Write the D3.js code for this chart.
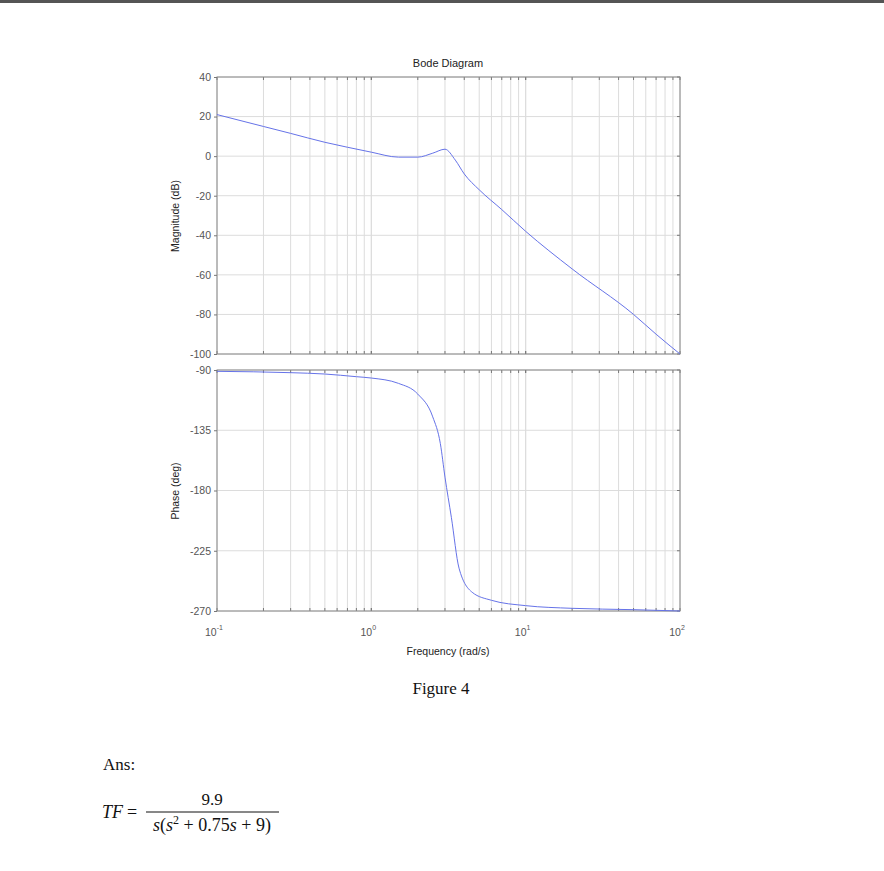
<!DOCTYPE html>
<html><head><meta charset="utf-8">
<script src="https://cdn.jsdelivr.net/npm/d3@7"></script>
<style>
body{margin:0;background:#fff;width:884px;height:871px;overflow:hidden}
svg{position:absolute;left:0;top:0}
</style></head>
<body>
<svg id="c" width="884" height="871"></svg>
<script>
// magnitude (dB)
const magFreq = [0.1,0.2,0.3,0.5,0.7,1,1.5,2,2.5,3,3.5,4,5,7,10,20,50,70,100];
const magDb   = [21,15,11.5,7,4.5,2,-0.5,-0.5,1.5,3.5,-2,-9,-17,-27,-38,-57,-80,-90,-100];
// phase (deg)
const phFreq = [0.1,0.3,0.5,0.8,1,1.5,2,2.5,2.8,3,3.3,3.7,4.5,6,10,20,50,100];
const phDeg  = [-91,-92,-93,-95,-96,-100,-108,-125,-145,-170,-200,-238,-256,-262,-266,-268,-269,-270];
const magTicks = [40,20,0,-20,-40,-60,-80,-100];
const phTicks = [-90,-135,-180,-225,-270];
const decades = [0.1,1,10,100];

const svg = d3.select('#c');
svg.append('rect').attr('x',0).attr('y',0).attr('width',884).attr('height',3).attr('fill','#555');

const x = d3.scaleLog().domain([0.1,100]).range([217,680]);
const yM = d3.scaleLinear().domain([-100,40]).range([354,77]);
const yP = d3.scaleLinear().domain([-270,-90]).range([611,370]);

const minor = [];
for (const d of [0.1,1,10]) for (let k=1;k<=10;k++) minor.push(d*k);

function panel(y, ticks, fr, vals) {
  const [b,t] = y.range();
  const g = svg.append('g');
  g.selectAll('.vg').data(minor).join('line')
    .attr('x1',d=>x(d)).attr('x2',d=>x(d)).attr('y1',t).attr('y2',b)
    .attr('stroke','#dcdcdc').attr('stroke-width',1);
  g.selectAll('.hg').data(ticks).join('line')
    .attr('x1',217).attr('x2',680).attr('y1',d=>y(d)).attr('y2',d=>y(d))
    .attr('stroke','#dcdcdc');
  // minor ticks top/bottom
  g.selectAll('.tt').data(minor).join('line')
    .attr('x1',d=>x(d)).attr('x2',d=>x(d)).attr('y1',t).attr('y2',t+3).attr('stroke','#777');
  g.selectAll('.tb').data(minor).join('line')
    .attr('x1',d=>x(d)).attr('x2',d=>x(d)).attr('y1',b).attr('y2',b-3).attr('stroke','#777');
  g.selectAll('.tr').data(ticks).join('line')
    .attr('x1',677).attr('x2',680).attr('y1',d=>y(d)).attr('y2',d=>y(d)).attr('stroke','#777');
  g.append('rect').attr('x',217).attr('y',t).attr('width',463).attr('height',b-t)
    .attr('fill','none').attr('stroke','#888');
  g.append('g').attr('transform','translate(217,0)')
    .call(d3.axisLeft(y).tickValues(ticks).tickSize(3).tickPadding(3).tickFormat(d=>String(d)))
    .call(a=>a.select('.domain').remove())
    .call(a=>a.selectAll('line').attr('stroke','#777'))
    .call(a=>a.selectAll('text').attr('fill','#555').attr('font-size',10.5).attr('font-family','Liberation Sans, Arial'));
  const pts = fr.map((f,i)=>[f,vals[i]]);
  g.append('path').datum(pts)
    .attr('d', d3.line().x(d=>x(d[0])).y(d=>y(d[1])).curve(d3.curveMonotoneX))
    .attr('fill','none').attr('stroke','#6673e8').attr('stroke-width',1);
}
panel(yM, magTicks, magFreq, magDb);
panel(yP, phTicks, phFreq, phDeg);

const sans = 'Liberation Sans, Arial';
svg.selectAll('.dl').data(decades).join('text')
  .attr('x',d=>x(d)-3).attr('y',636).attr('text-anchor','middle')
  .attr('font-family',sans).attr('font-size',10.5).attr('fill','#555')
  .text('10').append('tspan').attr('dy',-6).attr('font-size',7).text(d=>String(Math.round(Math.log10(d))));
svg.append('text').attr('x',448).attr('y',67).attr('text-anchor','middle')
  .attr('font-family',sans).attr('font-size',11).attr('fill','#222').text('Bode Diagram');
svg.append('text').attr('x',448).attr('y',655).attr('text-anchor','middle')
  .attr('font-family',sans).attr('font-size',10.5).attr('fill','#222').text('Frequency  (rad/s)');
svg.append('text').attr('transform','translate(179,216) rotate(-90)').attr('text-anchor','middle')
  .attr('font-family',sans).attr('font-size',10.5).attr('fill','#222').text('Magnitude (dB)');
svg.append('text').attr('transform','translate(179,491) rotate(-90)').attr('text-anchor','middle')
  .attr('font-family',sans).attr('font-size',10.5).attr('fill','#222').text('Phase (deg)');

const serif = 'Liberation Serif, Times New Roman';
svg.append('text').attr('x',441).attr('y',694).attr('text-anchor','middle')
  .attr('font-family',serif).attr('font-size',17).attr('fill','#111').text('Figure 4');
svg.append('text').attr('x',103).attr('y',770)
  .attr('font-family',serif).attr('font-size',17).attr('fill','#111').text('Ans:');
svg.append('text').attr('x',102).attr('y',818).attr('font-family',serif).attr('font-style','italic')
  .attr('font-size',18).attr('fill','#111').text('TF');
svg.append('text').attr('x',127).attr('y',818).attr('font-family',serif)
  .attr('font-size',18).attr('fill','#111').text('=');
svg.append('text').attr('x',212).attr('y',805).attr('text-anchor','middle').attr('font-family',serif)
  .attr('font-size',17).attr('fill','#111').text('9.9');
svg.append('line').attr('x1',146).attr('x2',279).attr('y1',812).attr('y2',812).attr('stroke','#111');
const den = svg.append('text').attr('x',212).attr('y',831).attr('text-anchor','middle').attr('font-family',serif)
  .attr('font-size',18).attr('fill','#111');
den.append('tspan').attr('font-style','italic').text('s');
den.append('tspan').text('(');
den.append('tspan').attr('font-style','italic').text('s');
den.append('tspan').attr('dy',-7).attr('font-size',12).text('2');
den.append('tspan').attr('dy',7).text(' + 0.75');
den.append('tspan').attr('font-style','italic').text('s');
den.append('tspan').text(' + 9)');
</script>
</body></html>
